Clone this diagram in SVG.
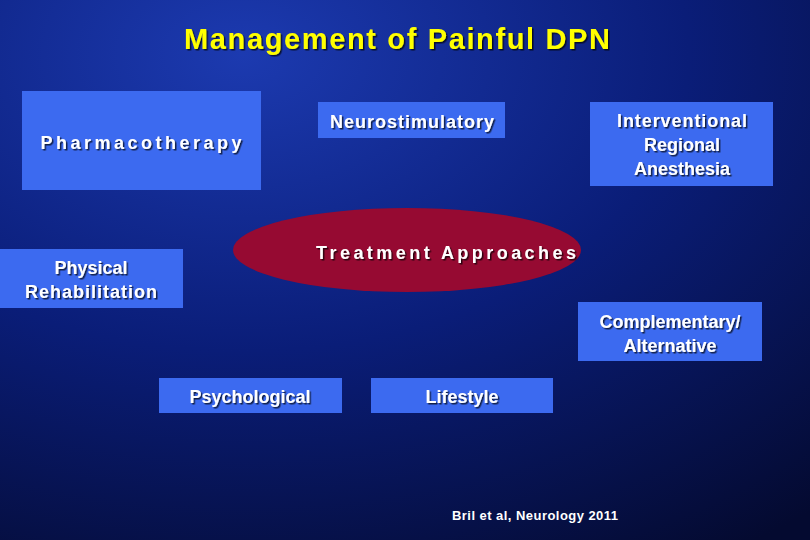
<svg xmlns="http://www.w3.org/2000/svg" width="810" height="540" viewBox="0 0 810 540">
<defs>
<radialGradient id="bg" cx="0.3" cy="0.1" r="1.1">
<stop offset="0" stop-color="#1c3ab0"/>
<stop offset="0.5" stop-color="#0a1d78"/>
<stop offset="1" stop-color="#040a30"/>
</radialGradient>
<filter id="sh" x="-10%" y="-10%" width="120%" height="130%"><feDropShadow dx="1.5" dy="1.5" stdDeviation="0.3" flood-color="#000" flood-opacity="0.7"/></filter>
</defs>
<style>
.box{fill:#3c6af0}
.t{font-family:"Liberation Sans",Arial,sans-serif;font-weight:bold;font-size:18px;fill:#fff;text-anchor:middle;filter:url(#sh)}
</style>
<rect width="810" height="540" fill="url(#bg)"/>
<text x="397" y="49" font-family="Liberation Sans,Arial,sans-serif" font-weight="bold" font-size="29" fill="#ffff00" text-anchor="middle" textLength="426" lengthAdjust="spacing" filter="url(#sh)">Management of Painful DPN</text>
<g id="connectors"/>
<g id="pharma"><rect class="box" x="22" y="91" width="239" height="99"/><text class="t" x="141" y="149" font-size="21" textLength="201" lengthAdjust="spacing">Pharmacotherapy</text></g>
<g id="neuro"><rect class="box" x="318" y="102" width="187" height="36"/><text class="t" x="412" y="128" textLength="164" lengthAdjust="spacing">Neurostimulatory</text></g>
<g id="interv"><rect class="box" x="590" y="102" width="183" height="84"/><text class="t" x="682" y="127" textLength="130" lengthAdjust="spacing">Interventional</text><text class="t" x="682" y="151">Regional</text><text class="t" x="682" y="175">Anesthesia</text></g>
<g id="physical"><rect class="box" x="0" y="249" width="183" height="59"/><text class="t" x="91" y="274">Physical</text><text class="t" x="91" y="298" textLength="132" lengthAdjust="spacing">Rehabilitation</text></g>
<g id="center"><ellipse cx="407" cy="250" rx="174" ry="42" fill="#960a32"/><text class="t" x="446" y="259" font-size="21" textLength="260" lengthAdjust="spacing">Treatment Approaches</text></g>
<g id="compl"><rect class="box" x="578" y="302" width="184" height="59"/><text class="t" x="670" y="328">Complementary/</text><text class="t" x="670" y="352">Alternative</text></g>
<g id="psych"><rect class="box" x="159" y="378" width="183" height="35"/><text class="t" x="250" y="403">Psychological</text></g>
<g id="life"><rect class="box" x="371" y="378" width="182" height="35"/><text class="t" x="462" y="403">Lifestyle</text></g>
<text x="535" y="520" font-family="Liberation Sans,Arial,sans-serif" font-weight="bold" font-size="13" fill="#fff" text-anchor="middle" textLength="166" lengthAdjust="spacing">Bril et al, Neurology 2011</text>
</svg>
